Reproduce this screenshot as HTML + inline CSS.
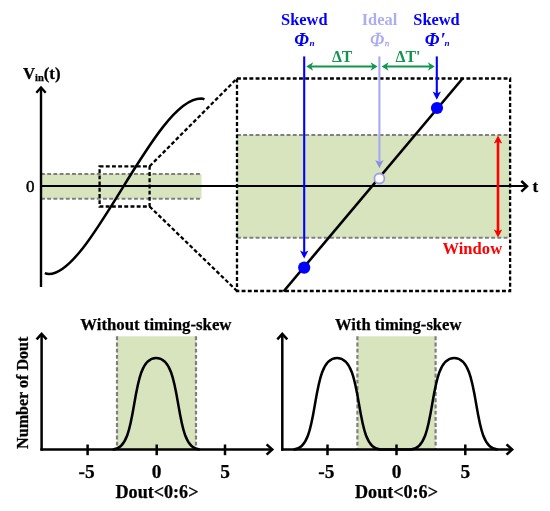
<!DOCTYPE html>
<html><head><meta charset="utf-8"><title>Timing skew window</title>
<style>
html,body{margin:0;padding:0;background:#fff;}
svg{display:block;}
text{font-family:"Liberation Serif","Times New Roman",serif;font-weight:bold;}
.k{stroke:#000;stroke-width:0.25;}
</style></head><body>
<svg width="550" height="511" viewBox="0 0 550 511">
<rect width="550" height="511" fill="#fff"/>
<!-- top-left plot -->
<rect x="41" y="174" width="160.5" height="24.8" fill="#d7e4bd"/>
<line x1="41" y1="174" x2="201.5" y2="174" stroke="#7f7f7f" stroke-width="1.9" stroke-dasharray="3.9 2.3"/>
<line x1="41" y1="198.8" x2="201.5" y2="198.8" stroke="#7f7f7f" stroke-width="1.9" stroke-dasharray="3.9 2.3"/>
<!-- zoom box green -->
<rect x="237" y="135" width="273.1" height="102.8" fill="#d7e4bd"/>
<line x1="237" y1="135" x2="510.1" y2="135" stroke="#7f7f7f" stroke-width="1.9" stroke-dasharray="3.9 2.3"/>
<line x1="237" y1="237.8" x2="510.1" y2="237.8" stroke="#7f7f7f" stroke-width="1.9" stroke-dasharray="3.9 2.3"/>
<!-- axes -->
<line x1="41" y1="287" x2="41" y2="87.5" stroke="#000" stroke-width="2.4"/>
<path d="M36.3,92.8 L41,87.5 L45.7,92.8" fill="none" stroke="#000" stroke-width="2.4"/>
<line x1="41" y1="186.1" x2="526" y2="186.1" stroke="#000" stroke-width="2"/>
<path d="M521.3,181 L527,186.3 L521.3,191.6" fill="none" stroke="#000" stroke-width="2.5"/>
<path d="M44.8,273.2 Q46.8,274 49,274 C91,274 155,98.6 201,98.6 Q203,98.7 204.4,99.5" fill="none" stroke="#000" stroke-width="2.5"/>
<!-- small dashed box -->
<rect x="99.6" y="166.3" width="50" height="40.2" fill="none" stroke="#000" stroke-width="2.3" stroke-dasharray="3.9 2.3"/>
<line x1="149.6" y1="166.3" x2="237" y2="78.5" stroke="#000" stroke-width="2.3" stroke-dasharray="3.9 2.3"/>
<line x1="149.6" y1="206.5" x2="237" y2="291" stroke="#000" stroke-width="2.3" stroke-dasharray="3.9 2.3"/>
<rect x="237" y="78.5" width="273.1" height="212.5" fill="none" stroke="#000" stroke-width="2.3" stroke-dasharray="3.9 2.3"/>
<!-- line in zoom box -->
<line x1="283.5" y1="291.5" x2="463" y2="78" stroke="#000" stroke-width="2.6"/>
<!-- blue arrows -->
<line x1="304.2" y1="56.4" x2="304.2" y2="253" stroke="#0000ff" stroke-width="2.1"/>
<path d="M304.2,258.6 L300.0,250.40000000000003 L304.2,252.40000000000003 L308.4,250.40000000000003 Z" fill="#0000ff"/>
<circle cx="304.2" cy="267.6" r="6.1" fill="#0000ff"/>
<line x1="436.8" y1="56.4" x2="436.8" y2="94" stroke="#0000ff" stroke-width="2.1"/>
<path d="M436.8,99.8 L432.6,91.6 L436.8,93.6 L441.0,91.6 Z" fill="#0000ff"/>
<circle cx="437" cy="108" r="6.1" fill="#0000ff"/>
<line x1="379.4" y1="56.4" x2="379.4" y2="163.5" stroke="#a8a8f4" stroke-width="2.1"/>
<path d="M379.4,168.2 L375.2,160.0 L379.4,162.0 L383.59999999999997,160.0 Z" fill="#8c8ce0"/>
<circle cx="379.4" cy="178.5" r="5" fill="#fff" stroke="#9c9cec" stroke-width="1.8"/>
<!-- green arrows -->
<g stroke="#12964f" stroke-width="2.1" fill="none">
<line x1="310" y1="66.5" x2="374" y2="66.5"/>
<line x1="385" y1="66.5" x2="431" y2="66.5"/>
<path d="M306.2,66.5 L313.2,62.2 L311.2,66.5 L313.2,70.8 Z" fill="#12964f" stroke="none"/><path d="M377.6,66.5 L370.6,62.2 L372.6,66.5 L370.6,70.8 Z" fill="#12964f" stroke="none"/><path d="M381.6,66.5 L388.6,62.2 L386.6,66.5 L388.6,70.8 Z" fill="#12964f" stroke="none"/><path d="M434.8,66.5 L427.8,62.2 L429.8,66.5 L427.8,70.8 Z" fill="#12964f" stroke="none"/>
</g>
<!-- red arrow -->
<line x1="498" y1="141" x2="498" y2="232" stroke="#ff0000" stroke-width="2.6"/>
<path d="M498,135.6 L493.8,143.6 L498,141.8 L502.2,143.6 Z" fill="#ff0000"/>
<path d="M498,237.4 L493.8,229.4 L498,231.2 L502.2,229.4 Z" fill="#ff0000"/>
<!-- texts top -->
<text class="k" x="22.9" y="79.2" font-size="16.8">V<tspan font-size="10.5" dy="2.2">in</tspan><tspan dy="-2.2">(t)</tspan></text>
<text x="26.1" y="191.5" font-size="17" style="font-weight:normal" stroke="#000" stroke-width="0.45">0</text>
<text class="k" x="532.4" y="191.6" font-size="17">t</text>
<text x="304.3" y="24.9" font-size="16.4" text-anchor="middle" fill="#0000ff">Skewd</text>
<text transform="translate(294.2,46.1) scale(1.12,1.15)" font-size="16.6" fill="#0000ff" font-style="italic">Φ</text>
<text x="309.4" y="45.9" font-size="9.2" fill="#0000ff" font-style="italic">n</text>
<text x="436.5" y="24.9" font-size="16.4" text-anchor="middle" fill="#0000ff">Skewd</text>
<text transform="translate(424.8,46.1) scale(1.12,1.15)" font-size="16.6" fill="#0000ff" font-style="italic">Φ<tspan dx="1">′</tspan></text>
<text x="444.6" y="45.9" font-size="9.2" fill="#0000ff" font-style="italic">n</text>
<text x="379.5" y="24.9" font-size="16.4" text-anchor="middle" fill="#adadf6">Ideal</text>
<text transform="translate(370,46.1) scale(1.12,1.16)" font-size="16.6" fill="#a9a9f5" stroke="#a9a9f5" stroke-width="0.4" font-style="italic" style="font-weight:normal">Φ</text>
<text x="384.7" y="45.9" font-size="9.2" fill="#a9a9f5" stroke="#a9a9f5" stroke-width="0.3" font-style="italic" style="font-weight:normal">n</text>
<text x="342.2" y="61.7" font-size="15.8" text-anchor="middle" fill="#12964f">ΔT</text>
<text x="408" y="61.7" font-size="15.8" text-anchor="middle" fill="#12964f">ΔT'</text>
<text x="472.3" y="254.2" font-size="16.6" text-anchor="middle" fill="#ff0000">Window</text>

<!-- bottom-left plot -->
<rect x="117" y="336.3" width="79" height="113.2" fill="#d7e4bd"/>
<line x1="117" y1="336.3" x2="117" y2="449.5" stroke="#7f7f7f" stroke-width="2.2" stroke-dasharray="3.9 2.3"/>
<line x1="196" y1="336.3" x2="196" y2="449.5" stroke="#7f7f7f" stroke-width="2.2" stroke-dasharray="3.9 2.3"/>
<line x1="41.6" y1="450.6" x2="41.6" y2="334.3" stroke="#000" stroke-width="2.5"/>
<path d="M36.6,339.4 L41.6,333.8 L46.6,339.4" fill="none" stroke="#000" stroke-width="2.5"/>
<line x1="40.4" y1="449.5" x2="271.5" y2="449.5" stroke="#000" stroke-width="2.7"/>
<path d="M266.6,444.3 L272.3,449.5 L266.6,454.7" fill="none" stroke="#000" stroke-width="2.5"/>
<g stroke="#000" stroke-width="2.5">
<line x1="87.6" y1="444.5" x2="87.6" y2="455.2"/><line x1="156.7" y1="444.5" x2="156.7" y2="455.2"/><line x1="225" y1="444.5" x2="225" y2="455.2"/>
</g>
<path d="M112.70,449.4 C140.70,449.4 127.70,358.1 156.20,358.1 C184.70,358.1 171.70,449.4 199.70,449.4" fill="none" stroke="#000" stroke-width="2.5"/>
<text class="k" x="155.9" y="329.8" font-size="16.8" text-anchor="middle">Without timing-skew</text>
<text class="k" x="86.5" y="477.6" font-size="19.4" text-anchor="middle">-5</text>
<text class="k" x="156.7" y="477.6" font-size="19.4" text-anchor="middle">0</text>
<text class="k" x="225" y="477.6" font-size="19.4" text-anchor="middle">5</text>
<text class="k" x="157" y="498.4" font-size="18.1" text-anchor="middle">Dout&lt;0:6&gt;</text>
<text class="k" transform="translate(27.7,392.8) rotate(-90) scale(1,1.04)" font-size="16.1" text-anchor="middle">Number of Dout</text>

<!-- bottom-right plot -->
<rect x="357.4" y="336.3" width="78.2" height="113.2" fill="#d7e4bd"/>
<line x1="357.4" y1="336.3" x2="357.4" y2="449.5" stroke="#7f7f7f" stroke-width="2.2" stroke-dasharray="3.9 2.3"/>
<line x1="435.6" y1="336.3" x2="435.6" y2="449.5" stroke="#7f7f7f" stroke-width="2.2" stroke-dasharray="3.9 2.3"/>
<line x1="282.3" y1="450.6" x2="282.3" y2="334.3" stroke="#000" stroke-width="2.5"/>
<path d="M277.3,339.4 L282.3,333.8 L287.3,339.4" fill="none" stroke="#000" stroke-width="2.5"/>
<line x1="281.1" y1="449.5" x2="512" y2="449.5" stroke="#000" stroke-width="2.7"/>
<path d="M506.5,444.3 L512.2,449.5 L506.5,454.7" fill="none" stroke="#000" stroke-width="2.5"/>
<g stroke="#000" stroke-width="2.5">
<line x1="327.5" y1="444.5" x2="327.5" y2="455.2"/><line x1="396.5" y1="444.5" x2="396.5" y2="455.2"/><line x1="465.3" y1="444.5" x2="465.3" y2="455.2"/>
</g>
<path d="M293.50,449.4 C321.50,449.4 308.50,358.1 337.00,358.1 C365.50,358.1 352.50,449.4 380.50,449.4 L410.70,449.4 C438.70,449.4 425.70,358.1 454.20,358.1 C482.70,358.1 469.70,449.4 497.70,449.4" fill="none" stroke="#000" stroke-width="2.5"/>
<text class="k" x="398.2" y="329.8" font-size="16.6" text-anchor="middle">With timing-skew</text>
<text class="k" x="326.4" y="477.6" font-size="19.4" text-anchor="middle">-5</text>
<text class="k" x="396.5" y="477.6" font-size="19.4" text-anchor="middle">0</text>
<text class="k" x="465.3" y="477.6" font-size="19.4" text-anchor="middle">5</text>
<text class="k" x="396.5" y="498.4" font-size="18.1" text-anchor="middle">Dout&lt;0:6&gt;</text>
</svg>
</body></html>
